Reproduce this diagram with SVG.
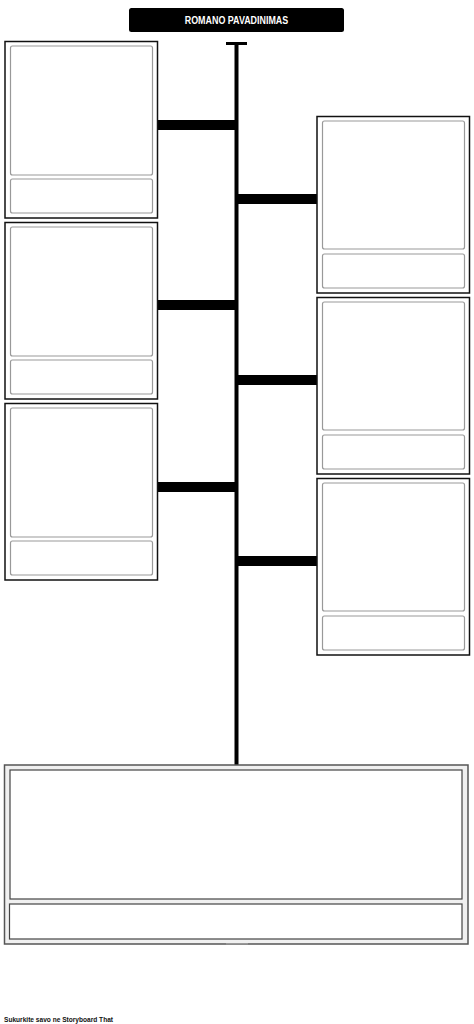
<svg xmlns="http://www.w3.org/2000/svg" width="474" height="1024" viewBox="0 0 474 1024">
<style>
.outer{fill:#fff;stroke:#111;stroke-width:1.5}
.inner{fill:#fff;stroke:#999;stroke-width:1.2}
.bouter{fill:#f0f0f0;stroke:#555;stroke-width:1.5}
.binner{fill:#fff;stroke:#444;stroke-width:1.2}
.bar{fill:#000}
</style>
<rect width="474" height="1024" fill="#fff"/>
<g id="title">
<rect x="129" y="8" width="215" height="24" rx="2.5" fill="#000"/>
<text x="236.5" y="24" text-anchor="middle" fill="#fff" font-family="Liberation Sans, Arial, sans-serif" font-weight="bold" font-size="10.5" transform="translate(236.5 0) scale(0.85 1) translate(-236.5 0)">ROMANO PAVADINIMAS</text>
</g>
<g id="connectors">
<rect class="bar" x="226" y="42" width="21" height="3"/>
<rect class="bar" x="234.5" y="42" width="4" height="723"/>
<rect class="bar" x="157" y="120" width="79" height="10"/>
<rect class="bar" x="157" y="300" width="79" height="10"/>
<rect class="bar" x="157" y="482" width="79" height="10"/>
<rect class="bar" x="237" y="194" width="80" height="10"/>
<rect class="bar" x="237" y="375" width="80" height="10"/>
<rect class="bar" x="237" y="556" width="80" height="10"/>
</g>
<g id="left1">
<rect class="outer" x="5" y="41.5" width="152.5" height="176.5"/>
<rect class="inner" x="10.5" y="46" width="142" height="129" rx="2"/>
<rect class="inner" x="10.5" y="179" width="142" height="34" rx="2"/>
</g>
<g id="left2">
<rect class="outer" x="5" y="222.5" width="152.5" height="176.5"/>
<rect class="inner" x="10.5" y="227" width="142" height="129" rx="2"/>
<rect class="inner" x="10.5" y="360" width="142" height="34" rx="2"/>
</g>
<g id="left3">
<rect class="outer" x="5" y="403.5" width="152.5" height="176.5"/>
<rect class="inner" x="10.5" y="408" width="142" height="129" rx="2"/>
<rect class="inner" x="10.5" y="541" width="142" height="34" rx="2"/>
</g>
<g id="right1">
<rect class="outer" x="317" y="116.5" width="152.5" height="176.5"/>
<rect class="inner" x="322.5" y="121" width="142" height="128" rx="2"/>
<rect class="inner" x="322.5" y="254" width="142" height="34" rx="2"/>
</g>
<g id="right2">
<rect class="outer" x="317" y="297.5" width="152.5" height="176.5"/>
<rect class="inner" x="322.5" y="302" width="142" height="128" rx="2"/>
<rect class="inner" x="322.5" y="435" width="142" height="34" rx="2"/>
</g>
<g id="right3">
<rect class="outer" x="317" y="478.5" width="152.5" height="176.5"/>
<rect class="inner" x="322.5" y="483" width="142" height="128" rx="2"/>
<rect class="inner" x="322.5" y="616" width="142" height="34" rx="2"/>
</g>
<g id="bottom">
<rect class="bouter" x="4.5" y="765" width="463.5" height="179"/>
<rect class="binner" x="10" y="770" width="452" height="129"/>
<rect class="binner" x="9.5" y="904" width="452.5" height="35"/>
<rect x="226" y="943" width="22" height="1.5" fill="#999"/>
</g>
<text x="4" y="1022" font-family="Liberation Sans, Arial, sans-serif" font-size="7.5" font-weight="bold" fill="#111" transform="translate(4 0) scale(0.88 1) translate(-4 0)">Sukurkite savo ne Storyboard That</text>
</svg>
